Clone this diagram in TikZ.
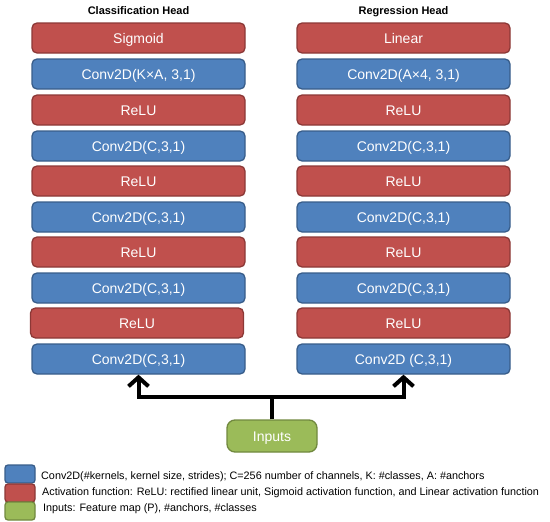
\documentclass[tikz,border=0pt]{standalone}
\usepackage{fontspec}
\setmainfont{Liberation Sans}
\usetikzlibrary{arrows.meta}
\definecolor{redf}{HTML}{C0504D}\definecolor{redd}{HTML}{8C3836}
\definecolor{bluef}{HTML}{4F81BD}\definecolor{blued}{HTML}{385D8A}
\definecolor{greenf}{HTML}{9BBB59}\definecolor{greend}{HTML}{71893F}
\tikzset{
  box/.style={rounded corners=5pt,line width=1.3pt,minimum width=213pt,minimum height=30pt,inner sep=0pt,text=white,text height=11pt,text depth=1pt,font=\fontsize{14}{16}\selectfont},
  act/.style={box,fill=redf,draw=redd},
  conv/.style={box,fill=bluef,draw=blued},
  inp/.style={box,fill=greenf,draw=greend,minimum width=90pt,minimum height=32pt,rounded corners=8pt},
  head/.style={anchor=base,font=\bfseries\fontsize{11}{13}\selectfont},
  conn/.style={line width=4pt,black},
  arr/.style={conn,-{Straight Barb[length=9pt,width=20pt,line width=4pt]}},
  leg/.style={rounded corners=3pt,line width=1.3pt,minimum width=30pt,minimum height=18pt,inner sep=0pt},
  legtxt/.style={anchor=west,font=\fontsize{10.8}{12}\selectfont,inner sep=0pt}
}
\begin{document}
\begin{tikzpicture}[x=1pt,y=-1pt]
\useasboundingbox (0,0) rectangle (550,522);
\node[head] (hl) at (138.5,15) {Classification Head};
\node[head] (hr) at (403.5,15) {Regression Head};
% left column
\node[act]  (l1)  at (138.5,38)  {Sigmoid};
\node[conv] (l2)  at (138.5,74)  {Conv2D(K×A, 3,1)};
\node[act]  (l3)  at (138.5,110) {ReLU};
\node[conv] (l4)  at (138.5,146) {Conv2D(C,3,1)};
\node[act]  (l5)  at (138.5,181) {ReLU};
\node[conv] (l6)  at (138.5,217) {Conv2D(C,3,1)};
\node[act]  (l7)  at (138.5,252) {ReLU};
\node[conv] (l8)  at (138.5,288) {Conv2D(C,3,1)};
\node[act]  (l9)  at (137,323)   {ReLU};
\node[conv] (l10) at (138.5,359) {Conv2D(C,3,1)};
% right column
\node[act]  (r1)  at (403.5,38)  {Linear};
\node[conv] (r2)  at (403.5,74)  {Conv2D(A×4, 3,1)};
\node[act]  (r3)  at (403.5,110) {ReLU};
\node[conv] (r4)  at (403.5,146) {Conv2D(C,3,1)};
\node[act]  (r5)  at (403.5,181) {ReLU};
\node[conv] (r6)  at (403.5,217) {Conv2D(C,3,1)};
\node[act]  (r7)  at (403.5,252) {ReLU};
\node[conv] (r8)  at (403.5,288) {Conv2D(C,3,1)};
\node[act]  (r9)  at (403.5,323) {ReLU};
\node[conv] (r10) at (403.5,359) {Conv2D (C,3,1)};
% inputs
\node[inp] (in) at (272,436) {Inputs};
\draw[conn] (in.north) -- ++(0,-22) coordinate (j);
\draw[arr] (j) -| (l10.south);
\draw[arr] (j) -| (r10.south);
% legend
\node[leg,fill=bluef,draw=blued]  (lb) at (20,474) {};
\node[leg,fill=redf,draw=redd]    (lr) at (20,493) {};
\node[leg,fill=greenf,draw=greend](lg) at (20,511) {};
\node[legtxt] (tb) at (41,477) {Conv2D(\#kernels, kernel size, strides); C=256 number of channels, K: \#classes, A: \#anchors};
\node[legtxt] (tr) at (42,493) {Activation function: ReLU: rectified linear unit, Sigmoid activation function, and Linear activation function};
\node[legtxt] (tg) at (43,509) {Inputs: Feature map (P), \#anchors, \#classes};
\end{tikzpicture}
\end{document}
